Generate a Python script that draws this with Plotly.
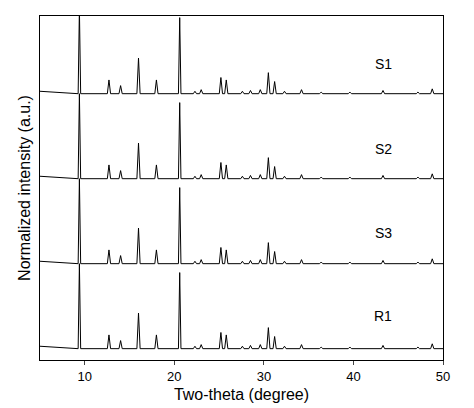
import plotly.graph_objects as go

# peak positions (deg) and relative heights
peak_pos = [9.4, 12.7, 14.0, 16.0, 18.0, 20.6, 22.3, 23.0, 25.2, 25.8, 27.6, 28.5,
            29.6, 30.5, 31.2, 32.3, 34.2, 36.4, 39.6, 43.3, 47.2, 48.8]
peak_h = [1.05, 0.17, 0.1, 0.44, 0.17, 0.94, 0.03, 0.05, 0.2, 0.17, 0.03, 0.04,
          0.05, 0.26, 0.15, 0.03, 0.05, 0.02, 0.02, 0.04, 0.02, 0.06]
samples = ["R1", "S3", "S2", "S1"]
offsets = [0.0, 1.05, 2.1, 3.15]
label_y = [0.4, 1.43, 2.47, 3.52]

fig = go.Figure()
for name, off, ly in zip(samples, offsets, label_y):
    xs, ys = [5.0], [off + 0.03]
    for p, h in zip(peak_pos, peak_h):
        w = 0.14 if h > 0.5 else 0.18
        xs += [p - w, p, p + w]
        ys += [off, off + h, off]
    xs.append(50.0)
    ys.append(off)
    fig.add_trace(go.Scatter(x=xs, y=ys, mode="lines",
                             line=dict(color="black", width=1), showlegend=False))
    fig.add_annotation(x=43.3, y=ly, text=name, showarrow=False,
                       font=dict(size=14, color="black"))

fig.update_layout(
    width=474, height=408, plot_bgcolor="white", paper_bgcolor="white",
    margin=dict(l=32, r=39, t=8, b=56),
    font=dict(family="Liberation Sans, Arial", size=13, color="black"),
)
fig.update_xaxes(range=[5, 50], tickvals=[10, 20, 30, 40, 50], ticks="outside",
                 ticklen=4, showgrid=False, showline=True, linecolor="black",
                 mirror=True, zeroline=False,
                 title=dict(text="Two-theta (degree)", standoff=6))
fig.update_yaxes(range=[-0.14, 4.11], showticklabels=False, showgrid=False,
                 showline=True, linecolor="black", mirror=True, zeroline=False,
                 title=dict(text="Normalized intensity (a.u.)", standoff=4))
fig.write_html("out.html")
